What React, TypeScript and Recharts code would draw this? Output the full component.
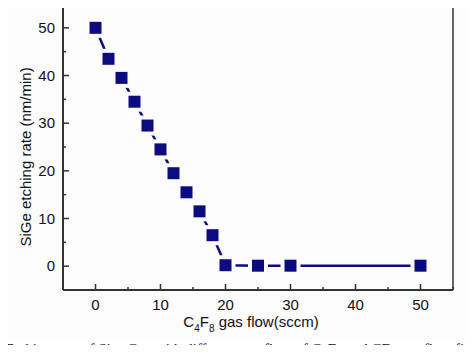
import React from 'react';
import { LineChart, Line, XAxis, YAxis } from 'recharts';

// C4F8 gas flow (sccm) and measured SiGe etching rate (nm/min)
const gasFlow = [0, 2, 4, 6, 8, 10, 12, 14, 16, 18, 20, 25, 30, 50];
const etchRate = [50, 43.5, 39.5, 34.5, 29.5, 24.5, 19.5, 15.5, 11.5, 6.5, 0.2, 0.1, 0.1, 0.1];

const xTicks = [-5, 0, 5, 10, 15, 20, 25, 30, 35, 40, 45, 50, 55];
const yTicks = [-5, 0, 5, 10, 15, 20, 25, 30, 35, 40, 45, 50, 55];

const data = gasFlow.map((f, i) => ({ flow: f, rate: etchRate[i] }));

const NAVY = '#0c0c80';
const FONT = '"Liberation Sans", Arial, sans-serif';

const XTick = (props: any) => {
    const { x, y, payload } = props;
    const major = payload.value % 10 === 0;
    return (
        <g>
            <line x1={x} y1={y} x2={x} y2={y - (major ? 6 : 3)} stroke="#333" strokeWidth={1.5} />
            {major && (
                <text x={x} y={y + 20} textAnchor="middle" fontFamily={FONT} fontSize={15} fill="#111">
                    {payload.value}
                </text>
            )}
        </g>
    );
};

const YTick = (props: any) => {
    const { x, y, payload } = props;
    const major = payload.value % 10 === 0;
    return (
        <g>
            <line x1={x} y1={y} x2={x + (major ? 6 : 3)} y2={y} stroke="#333" strokeWidth={1.5} />
            {major && (
                <text x={x - 8} y={y + 5} textAnchor="end" fontFamily={FONT} fontSize={15} fill="#111">
                    {payload.value}
                </text>
            )}
        </g>
    );
};

const SquareDot = (props: any) => {
    const { cx, cy, index } = props;
    return (
        <g key={`dot-${index}`}>
            <rect x={cx - 10} y={cy - 10} width={20} height={20} fill="#fcfcfc" />
            <rect x={cx - 6} y={cy - 6} width={12} height={12} fill={NAVY} />
        </g>
    );
};

const EtchRateChart: React.FC = () => (
    <div style={{ margin: -8, width: 474, height: 353, position: 'relative', overflow: 'hidden', background: '#fff' }}>
        <LineChart width={474} height={340} data={data} margin={{ top: 3, right: 20, bottom: 49, left: 62 }} style={{ background: '#fcfcfc' }}>
            <XAxis
                xAxisId="top"
                orientation="top"
                dataKey="flow"
                type="number"
                domain={[-5, 55]}
                height={1}
                tick={false}
                tickLine={false}
                axisLine={{ stroke: '#666', strokeWidth: 2 }}
            />
            <YAxis
                yAxisId="right"
                orientation="right"
                type="number"
                domain={[-5, 55]}
                width={1}
                tick={false}
                tickLine={false}
                axisLine={{ stroke: '#666', strokeWidth: 2 }}
            />
            <XAxis
                dataKey="flow"
                type="number"
                domain={[-5, 55]}
                ticks={xTicks}
                interval={0}
                height={1}
                tickSize={0}
                tickMargin={0}
                tickLine={false}
                tick={<XTick />}
                axisLine={{ stroke: '#333', strokeWidth: 2 }}
                label={{
                    content: (p: any) => {
                        const vb = p.viewBox;
                        return (
                            <text x={vb.x + vb.width / 2 - 7} y={vb.y + 37} textAnchor="middle" fontFamily={FONT} fontSize={15} fill="#111">
                                C<tspan dy={5} fontSize={10}>4</tspan>
                                <tspan dy={-5}>F</tspan>
                                <tspan dy={5} fontSize={10}>8</tspan>
                                <tspan dy={-5}> gas flow(sccm)</tspan>
                            </text>
                        );
                    },
                }}
            />
            <YAxis
                type="number"
                domain={[-5, 55]}
                ticks={yTicks}
                interval={0}
                width={1}
                tickSize={0}
                tickMargin={0}
                tickLine={false}
                tick={<YTick />}
                axisLine={{ stroke: '#333', strokeWidth: 2 }}
                label={{
                    content: (p: any) => {
                        const vb = p.viewBox;
                        const cy = vb.y + vb.height / 2 + 10;
                        return (
                            <text x={31} y={cy} transform={`rotate(-90, 31, ${cy})`} textAnchor="middle" fontFamily={FONT} fontSize={15} fill="#111">
                                SiGe etching rate (nm/min)
                            </text>
                        );
                    },
                }}
            />
            <Line
                dataKey="rate"
                stroke={NAVY}
                strokeWidth={2.5}
                dot={SquareDot}
                activeDot={false}
                isAnimationActive={false}
            />
        </LineChart>
        <div
            style={{
                position: 'absolute',
                left: -6,
                top: 341,
                whiteSpace: 'nowrap',
                fontFamily: '"Liberation Serif", "Times New Roman", serif',
                fontSize: 15,
                color: '#222',
            }}
        >
            <b>2</b> Etching rate of Si<sub>1-x</sub>Ge<sub>x</sub> with different gas flow of C<sub>4</sub>F<sub>8</sub> and CF<sub>4</sub> gas flow fixed at 20%
        </div>
    </div>
);

export default EtchRateChart;
